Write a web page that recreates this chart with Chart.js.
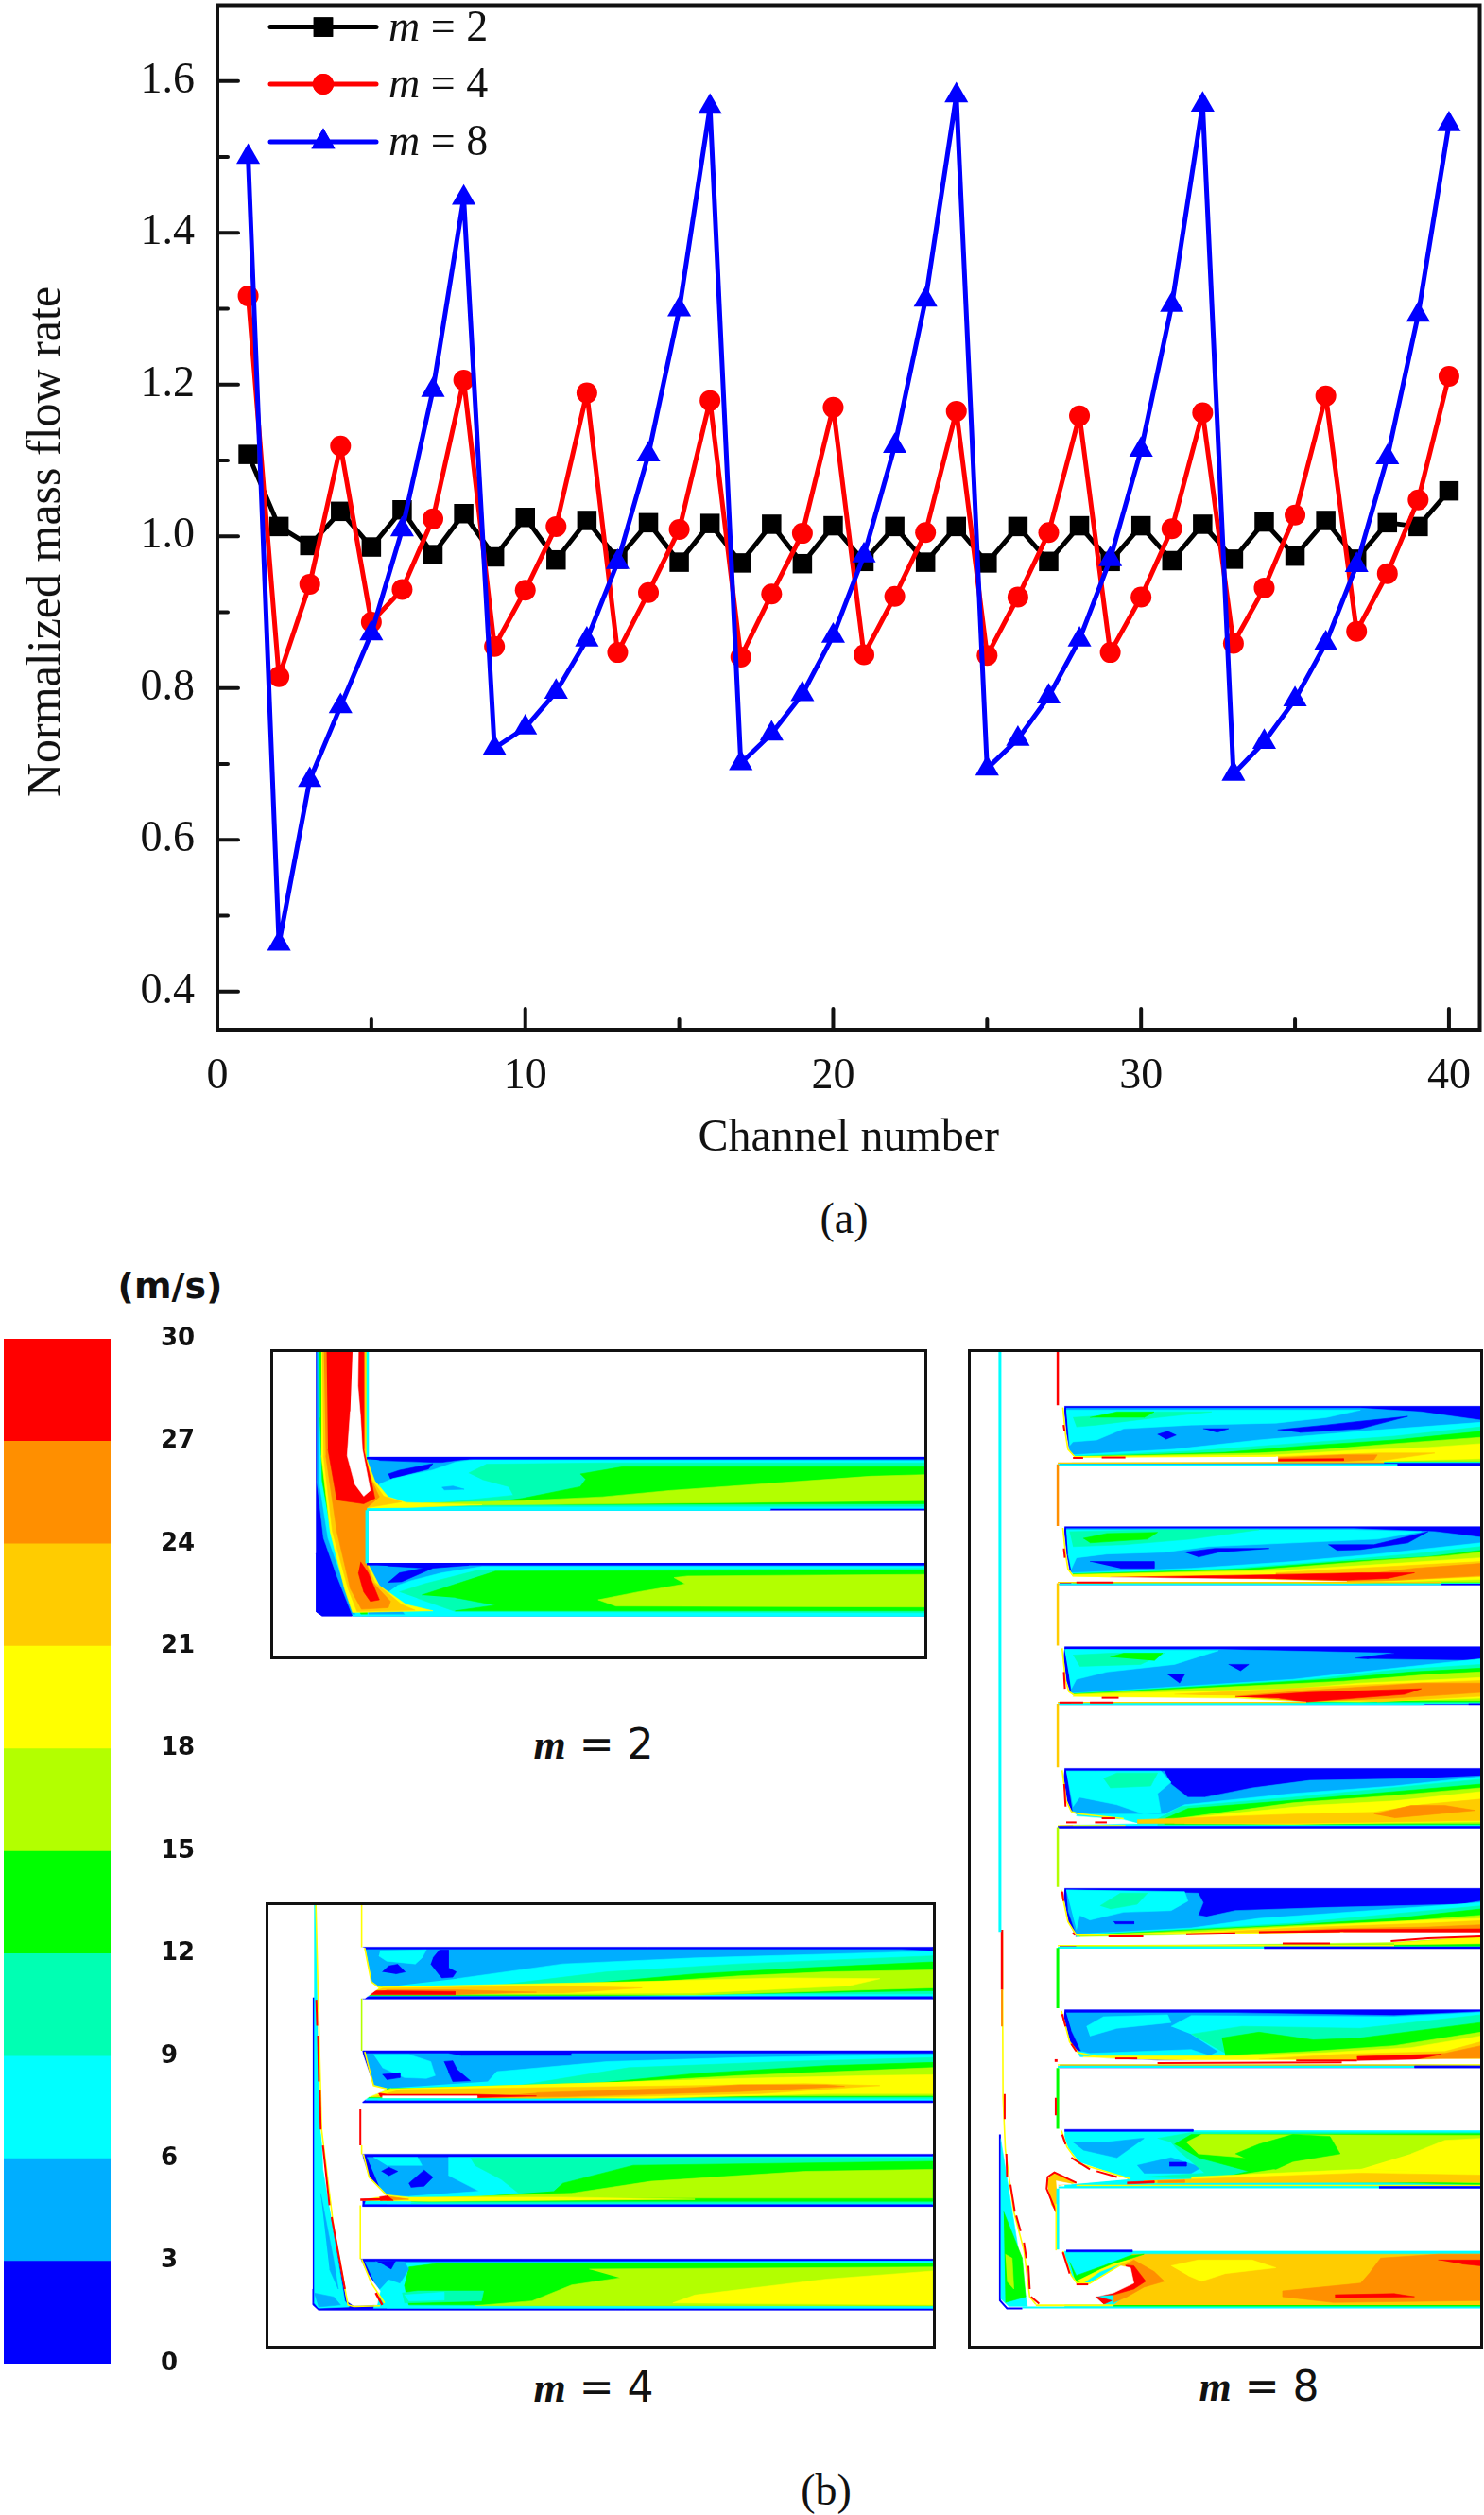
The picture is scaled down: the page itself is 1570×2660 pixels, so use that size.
<!DOCTYPE html>
<html>
<head>
<meta charset="utf-8">
<title>Flow distribution in parallel channels</title>
<script src="https://cdn.jsdelivr.net/npm/chart.js@4"></script>
<style>
  html,body{margin:0;padding:0;background:#fff;}
  #page{position:relative;width:1570px;height:2660px;overflow:hidden;}
  canvas{position:absolute;display:block;}
  .serif{position:absolute;font-family:"Liberation Serif",serif;color:#111;white-space:nowrap;transform:translate(-50%,-50%);}
  .sans{position:absolute;font-family:"DejaVu Sans",sans-serif;color:#111;white-space:nowrap;transform:translate(-50%,-50%);}
  .sans i{font-family:"Liberation Serif",serif;font-weight:bold;font-style:italic;}
  .frame{outline:3px solid #111;outline-offset:-2px;}
</style>
</head>
<body>
<div id="page">
  <canvas id="flowChart" style="left:0;top:-9px" width="1580" height="1259"></canvas>
  <div class="serif" style="left:46px;top:573px;font-size:50px;transform:translate(-50%,-50%) rotate(-90deg)">Normalized mass flow rate</div>
  <div class="serif" style="left:893px;top:1288px;font-size:46px">(a)</div>
  <div class="sans" style="left:180px;top:1360px;font-size:38px;font-weight:600">(m/s)</div>
  <canvas id="speedBar" style="left:0;top:1400px" width="240" height="1120"></canvas>
  <canvas id="fieldM2" class="frame" style="left:287px;top:1428px" width="693" height="326"></canvas>
  <canvas id="fieldM4" class="frame" style="left:282px;top:2013px" width="707" height="470"></canvas>
  <canvas id="fieldM8" class="frame" style="left:1025px;top:1428px" width="543" height="1055"></canvas>
  <div class="sans" style="left:628px;top:1845px;font-size:44px"><i>m</i> = 2</div>
  <div class="sans" style="left:628px;top:2525px;font-size:44px"><i>m</i> = 4</div>
  <div class="sans" style="left:1332px;top:2524px;font-size:44px"><i>m</i> = 8</div>
  <div class="serif" style="left:874px;top:2633px;font-size:46px">(b)</div>
</div>
<script>
// ---- mass flow rate per channel ----
const channels = [1,2,3,4,5,6,7,8,9,10,11,12,13,14,15,16,17,18,19,20,21,22,23,24,25,26,27,28,29,30,31,32,33,34,35,36,37,38,39,40];
const flowM2 = [1.108,1.013,0.988,1.033,0.986,1.035,0.976,1.030,0.973,1.025,0.969,1.021,0.970,1.018,0.966,1.017,0.965,1.016,0.964,1.014,0.967,1.013,0.966,1.013,0.965,1.013,0.967,1.014,0.967,1.014,0.968,1.016,0.970,1.019,0.974,1.021,0.970,1.018,1.013,1.060];
const flowM4 = [1.317,0.815,0.937,1.119,0.887,0.930,1.023,1.206,0.855,0.929,1.013,1.189,0.847,0.926,1.009,1.179,0.841,0.924,1.004,1.170,0.844,0.921,1.005,1.165,0.843,0.920,1.005,1.159,0.847,0.920,1.010,1.163,0.859,0.932,1.028,1.185,0.875,0.951,1.048,1.211];
const flowM8 = [1.500,0.463,0.679,0.776,0.872,1.009,1.193,1.446,0.721,0.748,0.795,0.864,0.966,1.108,1.299,1.566,0.701,0.740,0.792,0.869,0.975,1.119,1.312,1.581,0.694,0.733,0.789,0.864,0.970,1.114,1.305,1.569,0.687,0.729,0.785,0.859,0.962,1.104,1.292,1.543];
const xTicks = [0,5,10,15,20,25,30,35,40];
const xLabelled = [0,10,20,30,40];
const yTicks = [0.4,0.5,0.6,0.7,0.8,0.9,1.0,1.1,1.2,1.3,1.4,1.5,1.6];
const yLabelled = [0.4,0.6,0.8,1.0,1.2,1.4,1.6];

// ---- velocity colour scale (m/s) ----
const speedLevels = [0,3,6,9,12,15,18,21,24,27,30];
const speedColours = ['#0000ff','#00aeff','#00ffff','#00ffb3','#00ff00','#b3ff00','#ffff00','#ffcc00','#ff8f00','#ff0000'];
const WHITE = 10;

// Contour regions: [colour band, [x,y, x,y, ...], optional stroke width for open lines].
// Regions are listed back to front.
const fieldM2 = [
 [0,[158,92,272,92,272,425,1522,425,1522,592,272,592,272,760,1522,760,1522,926,172,926,158,912]],
 // channel 1
 [1,[276,431,1522,431,1522,586,1175,586,1175,592,272,592]],
 [0,[280,430,500,430,440,441,420,441,300,435]],
 [0,[320,478,345,466,420,445,410,462,360,480,325,495]],
 [2,[300,510,330,492,420,465,470,441,510,433,1522,436,1522,586,1175,586,1175,592,272,592]],
 [1,[440,520,465,516,490,526,445,528]],
 [3,[500,475,540,447,800,443,1522,443,1522,580,360,580,600,545,590,518,530,495]],
 [4,[750,478,845,455,1522,455,1522,572,720,574,540,570,620,555,750,518,762,495]],
 [5,[1522,480,1400,485,1150,510,950,530,800,550,620,562,400,570,520,576,1100,568,1522,562]],
 // channel 2
 [1,[276,766,1522,766,1522,926,272,926]],
 [0,[280,762,500,766,420,775,350,818,320,820,345,790,400,775,320,768]],
 [2,[340,830,370,815,440,790,530,770,1522,770,1522,926,360,926,320,850]],
 [3,[345,850,400,825,520,782,1522,776,1522,916,470,912,385,870]],
 [4,[395,860,560,785,1522,782,1522,910,470,910,560,892,470,868]],
 [5,[1522,795,990,800,960,805,985,825,880,850,790,875,830,895,1522,898]],
 // manifold and jet
 [1,[160,92,274,92,274,925,240,925,205,800,175,680,160,500]],
 [0,[158,730,178,700,185,760,205,830,238,926,172,926,158,912]],
 [2,[163,92,274,92,274,925,248,925,215,800,185,680,165,500]],
 [4,[166,92,272,92,272,925,260,925,225,800,195,680,172,500,167,300]],
 [6,[170,92,270,92,270,425,290,500,320,550,360,568,530,575,360,584,272,586,272,755,300,830,360,890,420,910,240,915,222,840,190,660,170,420]],
 [7,[172,92,268,92,268,425,285,500,310,548,350,566,300,578,270,585,270,755,290,820,350,890,380,908,250,912,230,840,195,660,175,420]],
 [8,[176,92,265,92,266,420,280,490,300,550,272,585,270,755,285,820,325,880,320,900,260,905,235,840,205,660,180,420]],
 [9,[182,92,265,92,265,400,285,520,290,555,265,572,205,560,185,400]],
 [9,[258,755,275,790,300,875,280,880,265,850,253,790]],
 [WHITE,[240,92,253,92,252,200,258,300,262,400,280,530,265,548,245,510,228,420,235,280]],
 [2,[274,92,274,425],5],
 [2,[272,590,1175,590],5],
 [2,[272,592,272,760],6],
 [0,[272,428,1522,428],5],
 [0,[272,762,1522,762],5],
 [2,[240,924,1522,924],4]
];

const fieldM4 = [
 // channel 1
 [0,[245,143,1540,143,1540,273,245,273]],
 [1,[250,149,1470,149,1540,153,1540,268,270,268]],
 [2,[285,152,390,150,380,170,365,185,300,178,282,165]],
 [0,[290,205,305,190,325,186,342,205,320,210]],
 [0,[405,170,420,150,440,150,440,195,458,205,450,218,425,220,400,185]],
 [2,[460,222,700,185,1000,170,1540,153,1540,268,250,268,250,258,280,245]],
 [3,[540,240,800,205,1100,185,1540,165,1540,260,250,262,280,244]],
 [4,[700,240,1000,210,1250,195,1540,180,1540,252,800,265,255,264,282,243]],
 [5,[780,240,1100,215,1300,205,1540,200,1540,245,1000,263,255,262,285,242]],
 [6,[290,243,850,230,1200,220,1420,222,1350,240,1000,258,255,260,258,240]],
 [7,[290,246,700,240,880,245,700,258,255,260]],
 [8,[300,250,460,250,640,256,460,262,260,262]],
 [9,[258,250,275,252,455,254,455,262,258,262]],
 [0,[245,269,1540,269],4],
 // channel 2
 [0,[245,403,1540,403,1540,533,245,533]],
 [1,[252,410,440,410,470,416,720,416,720,410,1540,410,1540,528,280,528]],
 [2,[270,412,350,412,400,430,410,465,390,472,340,470,290,445]],
 [0,[290,462,330,458,330,470,300,475]],
 [0,[430,430,450,428,460,450,490,478,450,480,440,455]],
 [2,[530,480,550,455,800,430,1100,420,1540,412,1540,528,252,528,255,505,300,497]],
 [3,[600,490,850,445,1200,430,1540,420,1540,522,255,522,305,497]],
 [4,[720,490,1000,460,1300,440,1540,432,1540,518,255,520,305,497]],
 [5,[860,480,1100,465,1540,445,1540,515,260,518,310,497]],
 [6,[1000,475,1200,470,1400,465,1540,463,1540,510,1300,510,900,522,260,518,310,498]],
 [7,[330,500,1000,490,1250,485,1420,490,1150,510,650,522,270,518]],
 [8,[640,508,1000,495,1100,488,1300,488,1340,492,1100,505,700,518,500,520]],
 [9,[280,508,300,512,500,512,640,516,500,520,285,518]],
 [WHITE,[290,516,505,516,505,521,290,521]],
 [0,[245,530,1540,530],4],
 // channel 3
 [0,[245,662,1540,662,1540,793,245,793]],
 [1,[255,670,1540,670,1540,788,300,788]],
 [2,[270,670,370,670,380,690,300,690]],
 [0,[288,705,305,695,325,705,305,716]],
 [0,[350,735,385,702,405,720,385,742,355,745]],
 [2,[440,670,1540,668,1540,788,250,788,255,770,350,768,510,755,440,715]],
 [3,[490,672,1540,672,1540,785,355,785,600,760,560,725,500,690]],
 [4,[680,755,700,735,860,690,1540,680,1540,780,355,780]],
 [5,[1540,700,1250,705,900,730,720,760,500,768,350,772,1540,772]],
 [6,[285,762,350,770,700,770,1000,775,400,780,245,778]],
 [8,[285,765,350,775,300,778]],
 [9,[280,755,300,765,315,778,285,778]],
 [0,[245,790,1540,790],4],
 // channel 4
 [0,[240,925,1540,925,1540,1053,145,1053,132,1040,132,1000,240,1000]],
 [1,[250,932,1540,930,1540,1048,300,1048]],
 [2,[340,935,1540,930,1540,1048,270,1048,285,1000]],
 [4,[350,945,420,935,1540,935,1540,1042,350,1040,340,990]],
 [3,[335,1010,370,1005,520,1005,515,1030,340,1035]],
 [2,[340,1015,430,1008,430,1028,350,1030]],
 [5,[760,950,1540,945,1540,1042,500,1042,630,1030,720,990,830,972]],
 [6,[1540,955,1300,975,1000,1015,950,1035,1540,1040]],
 [1,[275,930,340,932,350,950,330,985,290,970]],
 [0,[275,930,320,930,310,950,295,940]],
 // manifold
 [0,[132,270,140,270,150,700,215,1045,145,1050,132,1038]],
 [2,[135,38,140,38,143,400,155,700,205,1030,215,1045,145,1048,135,1035]],
 [1,[135,1010,180,1020,195,1040,145,1045]],
 [1,[150,760,180,930,190,1000,170,950]],
 [WHITE,[141,38,243,38,243,143,250,145,265,230,282,245,250,272,243,272,243,403,270,490,300,500,260,518,243,532,243,662,260,720,300,765,240,776,240,925,255,960,285,1005,278,1040,225,1042,210,1030,180,850,150,600]],
 [6,[243,38,243,143],3],[6,[250,145,265,230,285,246],3],
 [5,[243,272,243,403],3],
 [6,[250,405,270,490,300,498],3],[9,[240,550,240,640],4],[6,[243,640,243,662],3],
 [6,[247,662,260,720,300,765],3],[9,[290,775,240,776],5],[6,[240,790,240,925],3],
 [6,[243,925,265,985,295,1035],3],[9,[275,1010,290,1040],5],
 [6,[139,38,145,300,152,600,180,850,212,1040,225,1044,285,1042],3],
 [9,[140,275,142,340],4],[9,[144,365,146,480],4],[9,[148,500,150,600],4],[9,[155,640,170,790],4],[9,[175,820,205,1000],4]
];

// Regions of the eight-channel case are read in three local row scales.
const fieldM8Upper = [
 // channel 1
 [0,[325,195,1556,195,1556,352,310,352]],
 [1,[330,200,1200,200,1380,210,1556,232,1556,340,340,330]],
 [0,[955,258,1100,245,1200,235,1340,222,1200,255,1020,265]],
 [0,[600,270,630,262,655,272,625,283]],[0,[735,255,810,255,775,265]],
 [2,[330,205,1200,205,1100,225,950,240,700,245,500,255,420,285,350,290,340,300]],
 [3,[350,225,600,210,760,210,600,225,420,245,360,250]],
 [4,[400,225,480,210,590,210,560,225]],
 [2,[345,325,650,310,900,285,1200,262,1556,238,1556,345,345,345]],
 [3,[350,328,700,315,1000,295,1300,275,1556,250,1556,345,350,345]],
 [4,[350,330,800,318,1050,300,1300,285,1556,262,1556,342,350,342]],
 [5,[350,330,900,320,1100,310,1300,295,1556,278,1556,342,350,342]],
 [6,[350,333,950,325,1200,312,1400,305,1556,295,1556,335,1250,342,950,340,350,340]],
 [7,[950,330,1250,320,1420,320,1250,342,950,342]],
 [8,[950,333,1150,325,1250,325,1240,338,1150,342,950,342]],
 [9,[955,336,1150,335,1150,340,955,341]],
 [WHITE,[345,333,955,330,955,345,310,345]],
 [WHITE,[300,195,322,200,330,270,338,312,355,330,345,345,300,345]],
 [6,[320,198,328,270,335,310,355,330,950,328],3],
 [7,[305,347,1270,345],3],[2,[305,351,1310,351],3],[0,[1310,351,1556,351],3],
 [9,[322,245,325,262],4],[9,[350,333,380,333],4],[9,[435,332,505,332],4],
 // channel 2
 [0,[325,517,1556,517,1556,672,310,672]],
 [1,[330,522,1180,522,1420,530,1556,545,1556,660,345,640]],
 [0,[400,610,590,610,590,628,490,628]],
 [0,[680,585,770,575,930,575,780,585,720,598]],
 [0,[1105,565,1240,565,1400,530,1340,560,1200,578,1130,580]],
 [2,[330,525,1180,525,1380,530,1250,550,1000,560,750,570,620,585,450,590,360,600,345,630,335,590]],
 [3,[340,530,600,525,900,525,700,550,500,565,350,570]],
 [4,[380,548,450,535,600,532,570,550,400,560]],
 [2,[345,640,700,628,1000,610,1250,590,1556,560,1556,670,345,670]],
 [3,[350,642,800,630,1100,610,1350,590,1556,570,1556,668,350,668]],
 [4,[350,643,850,630,1150,610,1400,597,1556,580,1556,666,350,666]],
 [5,[350,645,900,632,1250,607,1450,595,1556,585,1556,665,350,665]],
 [6,[350,645,950,635,1300,615,1556,600,1556,658,1150,668,350,660]],
 [7,[950,640,1350,620,1556,610,1556,650,1200,665,950,660]],
 [8,[950,643,1200,645,1360,628,1556,615,1556,648,1300,660,1150,662,950,655]],
 [9,[460,652,960,645,1200,640,1360,640,1280,655,1160,660,900,655,460,657]],
 [WHITE,[340,650,460,652,900,658,1160,664,305,664]],
 [WHITE,[300,517,322,522,330,590,338,630,350,648,340,664,300,664]],
 [6,[320,520,328,590,335,630,350,648,460,650],3],
 [7,[305,666,1440,666],3],[2,[305,671,1440,671],3],[0,[1440,671,1556,671],3],
 [9,[323,575,326,600],4],[9,[360,666,470,666],4],
 // channel 3
 [0,[325,838,1556,838,1556,992,310,992]],
 [1,[330,845,780,845,1300,855,1180,870,1556,875,1556,985,345,965]],
 [0,[630,912,680,912,665,935]],[0,[810,885,870,885,845,902]],[0,[1185,868,1300,855,1220,870]],
 [2,[325,845,780,848,650,885,450,905,360,925,345,950]],
 [3,[350,860,460,855,620,855,550,885,370,890]],
 [4,[460,865,500,855,615,855,590,875]],
 [2,[350,962,1000,925,1200,905,1556,870,1556,990,345,990]],
 [3,[350,963,1050,925,1300,900,1556,885,1556,988,350,988]],
 [4,[350,964,1100,925,1350,905,1556,895,1556,985,350,985]],
 [5,[350,965,1150,930,1400,912,1556,905,1556,982,350,980]],
 [6,[350,966,1000,950,1200,935,1450,925,1556,920,1556,975,1200,985,350,975]],
 [7,[650,965,1200,940,1556,928,1556,970,1250,985]],
 [8,[830,970,1040,955,1380,935,1556,935,1556,960,1300,975,1040,985]],
 [9,[830,972,1040,960,1380,950,1330,965,1040,985,960,975]],
 [WHITE,[345,972,830,976,1040,986,305,986]],
 [WHITE,[300,838,318,845,330,930,340,958,350,968,345,986,300,986]],
 [6,[318,842,328,930,338,958,352,966,830,970],3],
 [7,[305,987,1040,987],3],[2,[305,991,1390,991],3],[0,[1520,991,1556,991],3],
 [9,[323,905,326,950],4],[9,[310,987,380,987],4],[9,[400,987,470,987],4],[9,[435,974,485,974],4],
 // channel 4
 [0,[325,1163,1556,1163,1556,1320,310,1320]],
 [1,[330,1170,620,1170,640,1205,690,1240,740,1240,880,1215,1050,1195,1380,1190,1556,1183,1556,1300,350,1285]],
 [0,[515,1250,540,1240,560,1255]],
 [2,[330,1170,415,1170,610,1170,640,1200,600,1230,610,1280,560,1285,480,1260,370,1240,350,1265]],
 [3,[440,1190,480,1175,600,1175,580,1210,460,1215]],
 [2,[350,1285,620,1285,680,1260,1000,1230,1300,1210,1556,1185,1556,1318,350,1318]],
 [3,[600,1298,670,1265,1000,1240,1556,1192,1556,1315,600,1315]],
 [4,[620,1298,690,1270,1000,1248,1300,1225,1556,1205,1556,1312,620,1312]],
 [5,[650,1298,1000,1255,1300,1235,1556,1215,1556,1310,650,1310]],
 [6,[680,1296,1050,1262,1300,1250,1556,1225,1556,1305,1000,1312,680,1310]],
 [7,[540,1300,1000,1285,1240,1280,1380,1260,1556,1245,1556,1302,1000,1310,540,1310]],
 [8,[1240,1285,1350,1262,1450,1262,1540,1275,1300,1295]],
 [WHITE,[350,1290,500,1300,540,1310,310,1314]],
 [WHITE,[300,1163,318,1170,332,1250,345,1280,360,1286,350,1312,300,1314]],
 [6,[318,1168,330,1250,345,1278,365,1284,500,1297],3],
 [6,[305,1316,505,1316],3],[0,[305,1320,1556,1320],5],
 [9,[324,1205,328,1265],4],[9,[330,1307,360,1307],4],[9,[415,1307,450,1307],4],[9,[435,1296,475,1296],4],
 // walls and left edge of the manifold
 [9,[305,45,305,192],5],[8,[305,350,305,515],5],[7,[305,668,305,835],5],[7,[305,990,305,1160],5],
 [5,[305,1320,305,1480],5],
 [2,[134,45,134,1600],6]
];

const fieldM8Fifth = [
 [0,[325,110,1556,110,1556,298,310,298]],
 [1,[330,115,720,125,735,155,720,195,745,200,830,180,1110,170,1500,160,1556,150,1556,280,360,255,335,180]],
 [2,[330,115,680,120,690,150,640,180,500,185,400,210,370,195,360,240]],
 [3,[430,165,490,125,570,125,540,160,460,175]],
 [0,[470,215,530,215,530,222,475,222]],
 [2,[360,255,700,235,900,205,1100,190,1556,155,1556,295,360,295]],
 [3,[360,258,1000,220,1556,165,1556,295,360,295]],
 [4,[370,258,1000,225,1300,205,1556,175,1556,290,370,290]],
 [5,[370,260,1000,228,1350,212,1556,195,1556,288,370,288]],
 [6,[700,250,1000,232,1400,210,1556,205,1556,270,700,270]],
 [7,[700,253,1000,235,1400,220,1556,212,1556,250,1150,245]],
 [8,[900,248,1100,238,1400,232,1556,225,1556,250,1150,245]],
 [9,[900,250,1150,240,1556,238,1556,250,1150,248]],
 [WHITE,[345,265,830,255,1140,250,1556,250,1556,260,1290,280,960,285,310,290]],
 [WHITE,[300,110,318,115,335,215,358,262,345,290,300,290]],
 [6,[315,115,335,215,360,258,700,250],3],
 [9,[318,120,322,150],4],[9,[350,250,355,258],4],[9,[455,262,558,262],4],[9,[685,255,830,252],4],[9,[900,248,1140,245],4],
 [6,[305,291,1300,291],3],[2,[305,298,915,298],4],[0,[915,298,1556,298],5],
 [4,[1300,284,1556,272,1556,292,1300,292]],
 [6,[1300,282,1556,266,1556,285,1300,288]],
 [9,[970,284,1110,284],4],[9,[1290,277,1400,268,1556,262],4]
];

const fieldM8Lower = [
 // channel 6
 [0,[325,257,1556,257,1556,407,310,407]],
 [1,[330,265,830,265,1300,272,1556,262,1556,400,380,375,345,310]],
 [2,[390,300,440,275,630,270,640,290,480,305,400,325]],
 [2,[640,300,700,272,1300,275,1556,264,1556,400,750,378,780,365,700,320]],
 [3,[700,320,850,300,1200,305,1556,270,1556,395,800,370]],
 [4,[790,330,900,315,1060,335,1200,330,1556,290,1556,385,800,372]],
 [2,[345,360,400,370,700,360,760,378,345,385]],
 [5,[750,378,1050,365,1300,350,1556,315,1556,400,750,385]],
 [6,[380,378,800,378,1100,368,1350,355,1556,325,1556,395,1100,395,380,382]],
 [7,[900,385,1150,372,1450,365,1556,340,1556,385]],
 [8,[1190,380,1450,370,1556,350,1556,382,1380,385]],
 [9,[1190,378,1440,372,1340,390,1190,390]],
 [WHITE,[370,380,600,388,1000,388,1180,390,1440,385,1556,385,1556,398,305,398,300,385]],
 [WHITE,[300,257,318,262,340,340,365,370,370,380,305,398]],
 [6,[316,260,340,340,365,368,420,378,800,378],3],
 [9,[318,268,328,300],4],[9,[345,345,360,365],4],[9,[475,383,540,383],4],[9,[600,395,1145,393],4],[9,[1010,388,1190,388],4],
 [6,[305,400,1556,400],3],[2,[305,405,1360,405],4],[0,[1360,405,1556,405],5],
 // channel 7
 [2,[325,570,1556,570,1556,716,325,716]],
 [0,[325,567,705,567,705,572,325,572]],
 [1,[350,600,450,600,550,590,560,590,480,640,380,620]],
 [1,[540,660,640,640,730,665,700,680,560,680]],
 [0,[635,652,685,652,685,662,635,662]],
 [3,[600,590,700,575,1556,575,1556,712,560,690,740,680,660,620,640,600]],
 [4,[650,605,700,580,1556,578,1556,710,800,690,870,675,720,640]],
 [5,[685,600,730,580,1556,582,1556,705,800,690,950,670,1000,650,720,630]],
 [4,[830,630,900,605,1000,580,1110,585,1140,630,1000,650,950,670,880,650]],
 [6,[1350,630,1450,595,1556,590,1556,682,1300,672,1200,670]],
 [6,[700,690,1200,670,1556,680,1556,700,700,700]],
 [7,[560,700,1200,680,1556,685,1556,703,560,705]],
 [8,[600,700,680,698,680,704,600,705]],
 [9,[510,703,590,700,590,705,510,708]],
 [WHITE,[345,645,510,695,310,710]],
 [WHITE,[298,568,318,572,335,615,372,655,510,695,345,708,298,708]],
 [6,[316,570,332,612,368,655,520,695],3],
 [9,[318,580,328,605],4],[9,[345,640,400,670],4],[9,[420,675,480,690],4],
 [6,[360,712,1556,712],3],[2,[305,717,1255,717],4],[0,[1255,717,1556,717],5],
 // channel 8
 [2,[325,882,1556,882,1556,1028,325,1028]],
 [0,[330,879,525,879,525,884,330,884]],
 [7,[525,890,1556,890,1556,1022,470,1022,530,980,520,930,480,915]],
 [4,[340,910,360,945,440,920,520,893,560,890,470,915,430,930,360,968]],
 [6,[360,960,430,930,470,915,520,905,430,935,380,965]],
 [6,[640,920,720,905,880,905,950,925,800,940,730,960,690,945]],
 [8,[1230,935,1260,900,1430,890,1556,890,1556,1010,1120,1015,970,1000,970,985,1200,965]],
 [9,[1430,905,1556,905,1556,920,1500,915]],
 [9,[1125,995,1300,992,1360,1000,1125,1003]],
 [8,[470,1015,510,1000,560,975,620,960,590,935,530,905,510,915,530,965,470,990]],
 [9,[505,918,530,920,565,960,530,980,470,995,415,998,465,1010,440,1020,410,995,470,985,525,965]],
 [WHITE,[360,965,400,965,490,920,520,925,530,965,470,990,415,1000,440,1020,225,1020,215,970,205,860,150,600,140,50,300,50,300,880,318,885,345,945]],
 // recirculation bubble above the lower wall
 [7,[272,700,295,678,360,705,305,712,300,780,285,760]],
 [WHITE,[300,700,345,708,305,710,305,760]],
 [9,[300,780,272,720,275,690,295,678,360,705],4],
 // walls
 [2,[305,720,305,878],6],[6,[300,880,300,760],3],
 [4,[305,97,305,253],6],[4,[305,408,305,565],6],[9,[299,485,299,530],4],
 [6,[320,882,345,945,362,965,400,965,490,918],3],[9,[320,885,340,940],4],[9,[360,968,395,968],4],
 [4,[470,1024,1556,1024],4],[2,[200,1028,1556,1028],4],
 [6,[240,1022,470,1022],4],
 // wedge against the outer manifold wall
 [0,[134,580,134,1010,155,1030,200,1030],4],
 [2,[136,590,215,1025,160,1025,136,1005]],
 [4,[145,780,200,900,210,1000,150,1015]],
 [5,[150,890,170,900,175,980,155,960]],
 [6,[141,50,143,480,150,620,175,780,205,880,222,1000,240,1020],3],
 [9,[140,50,140,205],5],[8,[140,205,140,300],4],[9,[148,475,148,540],4],[9,[153,630,155,690],4],[9,[165,710,178,780],4],
 [9,[182,790,195,830],4],[9,[205,860,212,900],4],[9,[218,920,222,980],4],[9,[226,1000,250,1018],4],
 [9,[300,392,300,385],6]
];

const toPoints = (flat, mapY) => {
  const pts = [];
  for (let i = 0; i < flat.length; i += 2) pts.push({x: flat[i], y: mapY(flat[i + 1])});
  return pts;
};

const regionDatasets = (regions, mapY = y => y) => regions.map(([band, flat, stroke]) => {
  const colour = band === WHITE ? '#ffffff' : speedColours[band];
  return {
    data: toPoints(flat, mapY),
    showLine: true,
    pointRadius: 0,
    borderColor: colour,
    backgroundColor: colour,
    borderWidth: stroke ? Math.max(1.6, stroke * 0.5) : 0.6,
    fill: stroke ? false : 'shape',
    tension: 0
  };
});

const drawField = (id, datasets, x0, x1, y0, y1) => {
  datasets.forEach((d, i) => { d.order = datasets.length - i; });
  new Chart(document.getElementById(id), {
    type: 'scatter',
    data: {datasets},
    options: {
      responsive: false, animation: false, events: [],
      layout: {padding: 0},
      plugins: {legend: {display: false}, tooltip: {enabled: false}},
      scales: {
        x: {type: 'linear', min: x0, max: x1, display: false},
        y: {type: 'linear', min: y0, max: y1, reverse: true, display: false}
      }
    }
  });
};

drawField('fieldM2', regionDatasets(fieldM2), 58, 1525, 87, 1060);
drawField('fieldM4', regionDatasets(fieldM4), 27, 1545, 33, 1147);
drawField('fieldM8', [
  ...regionDatasets(fieldM8Fifth, y => 1391 + 0.843 * y),
  ...regionDatasets(fieldM8Lower, y => 1542.7 + 1.0322 * y),
  ...regionDatasets(fieldM8Upper)
], 42, 1560, 45, 2711);

// Tick labels may overhang the plot edge without shrinking the plot.
const noOverhang = s => { s.paddingTop = 0; s.paddingBottom = 0; s.paddingLeft = 0; s.paddingRight = 0; };

// ---- colour bar, one stacked segment per band ----
new Chart(document.getElementById('speedBar'), {
  type: 'bar',
  data: {
    labels: ['speed'],
    datasets: speedColours.map((c, i) => ({
      data: [speedLevels[i + 1] - speedLevels[i]],
      backgroundColor: c, borderWidth: 0,
      barPercentage: 1, categoryPercentage: 1
    }))
  },
  options: {
    responsive: false, animation: false, events: [],
    layout: {padding: {left: 4, right: 0, top: 16, bottom: 20}},
    plugins: {legend: {display: false}, tooltip: {enabled: false}},
    scales: {
      x: {stacked: true, display: false},
      y: {
        stacked: true, position: 'right', min: 0, max: 30,
        afterFit(s) { s.width = 123; noOverhang(s); },
        border: {display: false},
        grid: {display: false, drawTicks: false},
        afterBuildTicks(s) { s.ticks = speedLevels.map(value => ({value})); },
        ticks: {
          padding: 53, color: '#111',
          font: {family: '"DejaVu Sans"', size: 26, weight: '600'},
          align: 'center', crossAlign: 'near'
        }
      }
    }
  }
});

// ---- closed plot frame, with ticks pointing inward: long on labelled values, short otherwise ----
const inwardTicks = {
  id: 'inwardTicks',
  afterDatasetsDraw(chart) {
    const {ctx, chartArea: a, scales: {x, y}} = chart;
    ctx.save();
    ctx.strokeStyle = '#111';
    ctx.lineWidth = 4;
    ctx.strokeRect(a.left, a.top, a.right - a.left, a.bottom - a.top);
    ctx.lineCap = 'round';
    for (const v of xTicks) {
      const p = x.getPixelForValue(v);
      const len = xLabelled.includes(v) ? 22 : 11;
      ctx.beginPath(); ctx.moveTo(p, a.bottom); ctx.lineTo(p, a.bottom - len); ctx.stroke();
    }
    for (const v of yTicks) {
      const p = y.getPixelForValue(v);
      const len = yLabelled.includes(v) ? 22 : 11;
      ctx.beginPath(); ctx.moveTo(a.left, p); ctx.lineTo(a.left + len, p); ctx.stroke();
    }
    ctx.restore();
  }
};

// ---- legend: stroke with marker, italic symbol followed by the value ----
const sampleLegend = {
  id: 'sampleLegend',
  afterDatasetsDraw(chart) {
    const {ctx} = chart;
    const rows = [37.6, 98, 159];
    chart.data.datasets.forEach((d, i) => {
      const yy = rows[i];
      ctx.save();
      ctx.strokeStyle = d.borderColor;
      ctx.lineWidth = d.borderWidth;
      ctx.lineCap = 'round';
      ctx.beginPath(); ctx.moveTo(286, yy); ctx.lineTo(398, yy); ctx.stroke();
      ctx.fillStyle = d.backgroundColor;
      Chart.helpers.drawPoint(ctx, {pointStyle: d.pointStyle, radius: d.pointRadius, rotation: 0, borderWidth: 0}, 342, yy);
      ctx.fill();
      ctx.fillStyle = '#111';
      ctx.textBaseline = 'middle';
      const [sym, rest] = d.label.split(' = ');
      ctx.font = 'italic 46px "Liberation Serif"';
      ctx.fillText(sym, 411, yy + 2);
      const w = ctx.measureText(sym).width;
      ctx.font = '46px "Liberation Serif"';
      ctx.fillText(' = ' + rest, 411 + w, yy + 2);
      ctx.restore();
    });
  }
};

new Chart(document.getElementById('flowChart'), {
  type: 'line',
  data: {
    labels: channels,
    datasets: [
      {label: 'm = 2', data: channels.map((x, i) => ({x, y: flowM2[i]})), borderColor: '#000', backgroundColor: '#000', pointStyle: 'rect', pointRadius: 14.5, order: 3},
      {label: 'm = 4', data: channels.map((x, i) => ({x, y: flowM4[i]})), borderColor: '#ff0000', backgroundColor: '#ff0000', pointStyle: 'circle', pointRadius: 11, order: 2},
      {label: 'm = 8', data: channels.map((x, i) => ({x, y: flowM8[i]})), borderColor: '#0000ff', backgroundColor: '#0000ff', pointStyle: 'triangle', pointRadius: 14.5, order: 1}
    ].map(d => ({...d, borderWidth: 5, borderJoinStyle: 'round', pointBorderWidth: 0, tension: 0, fill: false, clip: false}))
  },
  options: {
    responsive: false, animation: false, events: [],
    layout: {padding: {left: 0, right: 7, top: 5, bottom: 17}},
    plugins: {legend: {display: false}, tooltip: {enabled: false}},
    scales: {
      x: {
        type: 'linear', min: 0, max: 41,
        afterFit(s) { s.height = 144; noOverhang(s); },
        afterBuildTicks(s) { s.ticks = xLabelled.map(value => ({value})); },
        border: {display: false},
        grid: {display: false, drawTicks: false},
        ticks: {padding: 22, color: '#111', maxRotation: 0, font: {family: '"Liberation Serif"', size: 46}},
        title: {display: true, text: 'Channel number', color: '#111', padding: {top: 8, bottom: 0}, font: {family: '"Liberation Serif"', size: 48}}
      },
      y: {
        type: 'linear', min: 0.35, max: 1.7,
        afterFit(s) { s.width = 230; noOverhang(s); },
        afterBuildTicks(s) { s.ticks = yLabelled.map(value => ({value})); },
        border: {display: false},
        grid: {display: false, drawTicks: false},
        ticks: {padding: 24, color: '#111', callback: v => v.toFixed(1), font: {family: '"Liberation Serif"', size: 46}}
      }
    }
  },
  plugins: [inwardTicks, sampleLegend]
});
</script>
</body>
</html>
